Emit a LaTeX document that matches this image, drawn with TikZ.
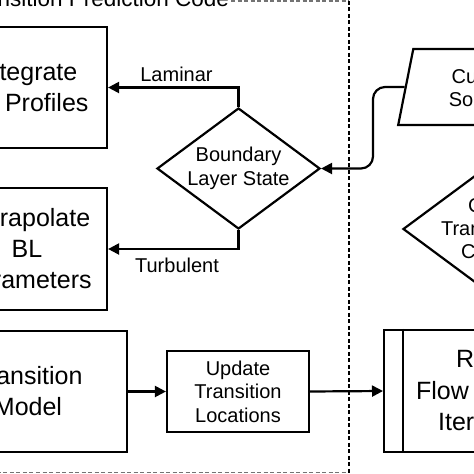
\documentclass[tikz,border=0pt]{standalone}
\usepackage{fontspec}
\setmainfont{Liberation Sans}
\usetikzlibrary{shapes.geometric,arrows.meta}
\begin{document}
\begin{tikzpicture}[x=1pt,y=-1pt,line width=2.2pt,
  big/.style={font=\fontsize{25}{31}\selectfont},
  mid/.style={font=\fontsize{20}{23.5}\selectfont},
  box/.style={draw,rectangle,inner sep=0pt,align=center,big},
  sbox/.style={draw,rectangle,inner sep=0pt,align=center,mid},
  dia/.style={draw,diamond,aspect=1.35,inner sep=0pt,align=center,mid,minimum width=163pt,minimum height=121pt},
  lbl/.style={inner sep=0pt,mid},
  arr/.style={-{Triangle[length=11pt,width=11pt]}},
  frame/.style={line width=1.6pt,dash pattern=on 4pt off 2.5pt}]
\useasboundingbox (0,0) rectangle (474,474);
\clip (0,0) rectangle (474,474);
\fill[white] (0,0) rectangle (474,474);
% dashed frame
\draw[frame,black!55] (-250,0.8) -- (349,0.8);
\draw[frame,black!55] (-250,472.5) -- (349,472.5);
\draw[frame,black] (349,0.8) -- (349,472.5);
\node[anchor=base east,fill=white,inner sep=1pt,font=\fontsize{22.5}{26}\selectfont] (title) at (231,6) {Transition Prediction Code};
% left column boxes
\node[box,minimum width=158pt,minimum height=121pt] (integ) at (28,87.5) {Integrate\\BL Profiles};
\node[box,minimum width=160pt,minimum height=122pt] (extr) at (27,249) {Extrapolate\\BL\\Parameters};
\node[box,minimum width=198pt,minimum height=121pt] (trans) at (28,391.5) {Transition\\Model};
% decision
\node[dia] (bls) at (238.5,168.5) {Boundary\\Layer State};
\node[sbox,minimum width=142pt,minimum height=81pt] (upd) at (238,391.5) {Update\\Transition\\Locations};
% right column
\node[draw,trapezium,trapezium left angle=63,trapezium right angle=63,trapezium stretches=true,minimum width=170pt,minimum height=76pt,inner sep=0pt,mid] (cur) at (483,87) {\phantom{Current}};
\node[inner sep=0pt,align=center,mid] (curtxt) at (485,88) {Current\\Solution};
\node[dia] (chk) at (484.5,229) {\phantom{Check}};
\node[lbl,anchor=base west] (chk1) at (467,212) {Check};
\node[lbl,anchor=base west] (chk2) at (440,235) {Transition};
\node[lbl,anchor=base west] (chk3) at (460,258) {Criteria};
\node[draw,rectangle,inner sep=0pt,anchor=west,minimum width=200pt,minimum height=122pt] (rans) at (383,391) {};
\draw ([xshift=20pt]rans.north west) -- ([xshift=20pt]rans.south west);
\node[inner sep=0pt,anchor=base west,big] (rans1) at (455,367) {Run};
\node[inner sep=0pt,anchor=base west,big] (rans2) at (415,399) {Flow Solver};
\node[inner sep=0pt,anchor=base west,big] (rans3) at (437,430) {Iteration};
% connectors
\coordinate (jog) at (373,128);
\draw[arr,rounded corners=12pt] (cur.west) -| (jog) |- (bls.east);
\draw[arr] (bls.north) |- (integ.east);
\draw[arr] (bls.south) |- (extr.east);
\node[lbl,anchor=base] (lam) at (176.5,81) {Laminar};
\node[lbl,anchor=base] (turb) at (177,272) {Turbulent};
\draw[arr] (trans.east) -- (upd.west);
\draw[arr] (upd.east) -- (rans.west);
\end{tikzpicture}
\end{document}
